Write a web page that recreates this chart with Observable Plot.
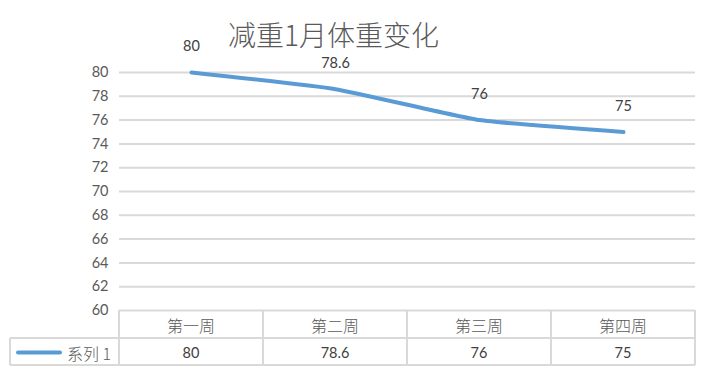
<!DOCTYPE html>
<html><head><meta charset="utf-8">
<script src="https://cdn.jsdelivr.net/npm/d3@7"></script>
<script src="https://cdn.jsdelivr.net/npm/@observablehq/plot@0.6"></script>
<style>body{margin:0;background:#fff}</style>
</head><body><div id="chart"></div>
<script>
const title = "减重1月体重变化";
const seriesName = "系列 1";
const categories = ["第一周", "第二周", "第三周", "第四周"];
const values = [80, 78.6, 76, 75];
const yTicks = [60, 62, 64, 66, 68, 70, 72, 74, 76, 78, 80];

const data = categories.map((c, i) => ({cat: c, i: i + 0.5, v: values[i]}));
const font = "Lato, 'Noto Sans CJK SC', sans-serif";
const cjkFont = "'Noto Sans CJK SC', sans-serif";
const blue = "#5B9BD5";
const grey = "#d9d9d9";

function table(index, scales, vals, dims) {
  const x = scales.x;
  const g = d3.create("svg:g").attr("font-family", font);
  const top = dims.height - dims.marginBottom;
  const r1 = top + 28, r2 = top + 55;
  const left = 10;
  const xs = d3.range(categories.length + 1).map(x);
  const right = xs[xs.length - 1];
  const line = (x1, y1, x2, y2) => g.append("line").attr("x1", x1).attr("y1", y1).attr("x2", x2).attr("y2", y2)
    .attr("stroke", grey).attr("stroke-width", 2);
  line(left, r1, right, r1);
  line(left, r2, right, r2);
  line(left, r1, left, r2);
  xs.forEach(xx => line(xx, top, xx, r2));
  categories.forEach((c, i) => {
    g.append("text").attr("x", x(i + 0.5)).attr("y", (top + r1) / 2 + 1).attr("text-anchor", "middle")
      .attr("dominant-baseline", "central").attr("font-family", cjkFont).attr("font-weight", 300)
      .attr("font-size", 16).attr("fill", "#595959").text(c);
    g.append("text").attr("x", x(i + 0.5)).attr("y", (r1 + r2) / 2 + 1).attr("text-anchor", "middle")
      .attr("dominant-baseline", "central").attr("font-size", 14.5).attr("fill", "#404040").text(String(values[i]));
  });
  g.append("line").attr("x1", left + 8).attr("x2", left + 50).attr("y1", (r1 + r2) / 2 + 1).attr("y2", (r1 + r2) / 2 + 1)
    .attr("stroke", blue).attr("stroke-width", 4).attr("stroke-linecap", "round");
  g.append("text").attr("x", left + 57).attr("y", (r1 + r2) / 2 + 1).attr("text-anchor", "start")
    .attr("dominant-baseline", "central").attr("font-family", cjkFont).attr("font-weight", 300)
    .attr("font-size", 16).attr("fill", "#595959").text(seriesName);
  return g.node();
}

const chart = Plot.plot({
  width: 710, height: 381,
  marginLeft: 119, marginRight: 15, marginTop: 72, marginBottom: 71,
  style: {fontFamily: font, background: "#fff"},
  x: {domain: [0, categories.length], axis: null},
  y: {domain: [60, 80]},
  marks: [
    Plot.ruleY(yTicks, {stroke: grey, strokeWidth: 2}),
    Plot.axisY(yTicks, {tickSize: 0, tickPadding: 11, fontSize: 14.5, fill: "#595959", label: null}),
    Plot.line(data, {x: "i", y: "v", curve: "cardinal", tension: 0.6, stroke: blue, strokeWidth: 4, strokeLinecap: "round", strokeLinejoin: "round"}),
    Plot.text(data, {x: "i", y: "v", text: d => String(d.v), dy: -26, fontSize: 14.5, fill: "#404040"}),
    Plot.text([title], {frameAnchor: "top", dx: -74, dy: -46, fontSize: 28, fontWeight: 300, fontFamily: cjkFont, fill: "#595959"}),
    table
  ]
});
document.getElementById("chart").append(chart);
</script>
</body></html>
